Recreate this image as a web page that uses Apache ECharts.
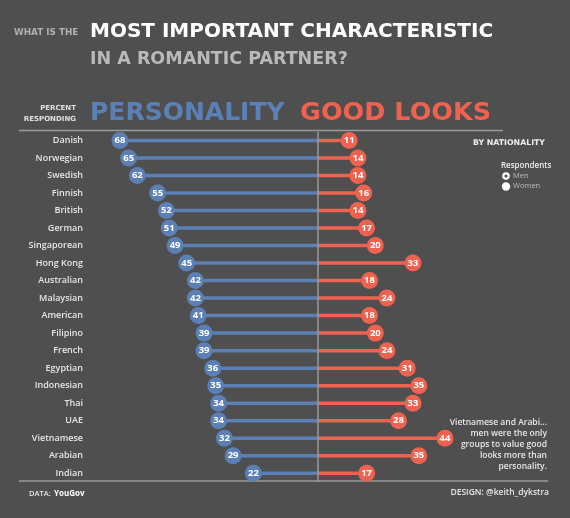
<!DOCTYPE html>
<html>
<head>
<meta charset="utf-8">
<script src="https://cdn.jsdelivr.net/npm/echarts@6/dist/echarts.min.js"></script>
<style>
html,body{margin:0;padding:0;background:#4f4f4f;}
#chart{width:570px;height:518px;}
</style>
</head>
<body>
<div id="chart"></div>
<script>
var categories = ['Danish','Norwegian','Swedish','Finnish','British','German','Singaporean','Hong Kong','Australian','Malaysian','American','Filipino','French','Egyptian','Indonesian','Thai','UAE','Vietnamese','Arabian','Indian'];
var personality = [68,65,62,55,52,51,49,45,42,42,41,39,39,36,35,34,34,32,29,22];
var goodLooks = [11,14,14,16,14,17,20,33,18,24,18,20,24,31,35,33,28,44,35,17];
var annotationLines = ['Vietnamese and Arabi...','men were the only','groups to value good','looks more than','personality.'];

var BLUE = '#5b80b6';
var RED = '#ef624f';
var GRAYLINE = '#9a9a9a';
var LABEL_FONT = '"Open Sans", "Noto Sans", sans-serif';
var TITLE_FONT = '"DejaVu Sans", sans-serif';

var chart = echarts.init(document.getElementById('chart'));

var persBars = personality.map(function (v) { return -v; });
var persDots = personality.map(function (v, i) { return [-v, categories[i]]; });
var looksDots = goodLooks.map(function (v, i) { return [v, categories[i]]; });

function dotLabel() {
  return {
    show: true,
    position: 'inside',
    color: '#ffffff',
    fontSize: 9.5,
    fontWeight: 'bold',
    fontFamily: LABEL_FONT,
    formatter: function (p) { return Math.abs(p.value[0]); }
  };
}

function txt(text, x, y, size, color, opts) {
  opts = opts || {};
  return {
    type: 'text',
    x: x, y: y,
    z: 10,
    style: {
      text: text,
      fill: color,
      font: (opts.weight || 'bold') + ' ' + size + 'px ' + (opts.family || TITLE_FONT),
      textAlign: opts.align || 'left',
      textVerticalAlign: 'middle'
    }
  };
}

var graphics = [
  txt('WHAT IS THE', 14, 33, 8.8, '#b0b0b0'),
  txt('MOST IMPORTANT CHARACTERISTIC', 90, 32, 20, '#ffffff'),
  txt('IN A ROMANTIC PARTNER?', 90, 59, 17.5, '#b9b9b9'),
  txt('PERCENT', 76, 108, 7, '#e0e0e0', {align: 'right'}),
  txt('RESPONDING', 76, 119, 7, '#e0e0e0', {align: 'right'}),
  txt('PERSONALITY', 90, 113, 25, BLUE),
  txt('GOOD LOOKS', 300, 113, 25.5, RED),
  txt('BY NATIONALITY', 545, 143, 7.8, '#eeeeee', {align: 'right'}),
  txt('Respondents', 501, 166, 8, '#eeeeee', {family: LABEL_FONT, weight: '600'}),
  txt('Men', 513, 176, 7.5, '#bdbdbd', {family: LABEL_FONT, weight: 'normal'}),
  txt('Women', 513, 186, 7.5, '#bdbdbd', {family: LABEL_FONT, weight: 'normal'}),
  { type: 'circle', shape: {cx: 506, cy: 176, r: 3.8}, style: {fill: '#ffffff'}, z: 10 },
  { type: 'circle', shape: {cx: 506, cy: 176, r: 1.6}, style: {fill: '#4f4f4f'}, z: 11 },
  { type: 'circle', shape: {cx: 506, cy: 186.5, r: 4.2}, style: {fill: '#ffffff'}, z: 10 },
  { type: 'line', shape: {x1: 19, y1: 130.5, x2: 503, y2: 130.5}, style: {stroke: GRAYLINE, lineWidth: 1.5}, z: 1 },
  { type: 'line', shape: {x1: 19, y1: 481, x2: 548, y2: 481}, style: {stroke: GRAYLINE, lineWidth: 1.5}, z: 1 },
  txt('DATA:', 29, 494, 7.5, '#e8e8e8', {family: LABEL_FONT, weight: '600'}),
  txt('YouGov', 54, 493.5, 8, '#ffffff', {family: LABEL_FONT, weight: 'bold'}),
  txt('DESIGN: @keith_dykstra', 549, 493, 8.5, '#e8e8e8', {family: LABEL_FONT, weight: '600', align: 'right'})
];
annotationLines.forEach(function (line, i) {
  graphics.push(txt(line, 547, 423 + i * 10.8, 8.5, '#e8e8e8', {family: LABEL_FONT, weight: '600', align: 'right'}));
});

var option = {
  backgroundColor: '#4f4f4f',
  animation: false,
  grid: { left: 88, right: 67, top: 131.7, bottom: 36, containLabel: false },
  xAxis: {
    type: 'value',
    min: -79, max: 64,
    show: false
  },
  yAxis: {
    type: 'category',
    data: categories,
    inverse: true,
    axisLine: { show: false },
    axisTick: { show: false },
    axisLabel: {
      color: '#e6e6e6',
      fontSize: 9,
      fontWeight: 600,
      fontFamily: LABEL_FONT,
      margin: 5
    }
  },
  series: [
    {
      name: 'Personality',
      type: 'bar',
      stack: 'x',
      data: persBars,
      barWidth: 3.5,
      itemStyle: { color: BLUE },
      z: 2
    },
    {
      name: 'Good Looks',
      type: 'bar',
      stack: 'x',
      data: goodLooks,
      barWidth: 3.5,
      itemStyle: { color: RED },
      z: 2,
      markLine: {
        silent: true,
        symbol: 'none',
        label: { show: false },
        lineStyle: { color: GRAYLINE, width: 1.5, type: 'solid' },
        data: [{ xAxis: 0 }]
      }
    },
    {
      name: 'Personality dots',
      type: 'scatter',
      data: persDots,
      symbolSize: 17,
      itemStyle: { color: BLUE, opacity: 1 },
      label: dotLabel(),
      z: 5
    },
    {
      name: 'Good Looks dots',
      type: 'scatter',
      data: looksDots,
      symbolSize: 17,
      itemStyle: { color: RED, opacity: 1 },
      label: dotLabel(),
      z: 5
    }
  ],
  graphic: graphics
};
chart.setOption(option);
</script>
</body>
</html>
